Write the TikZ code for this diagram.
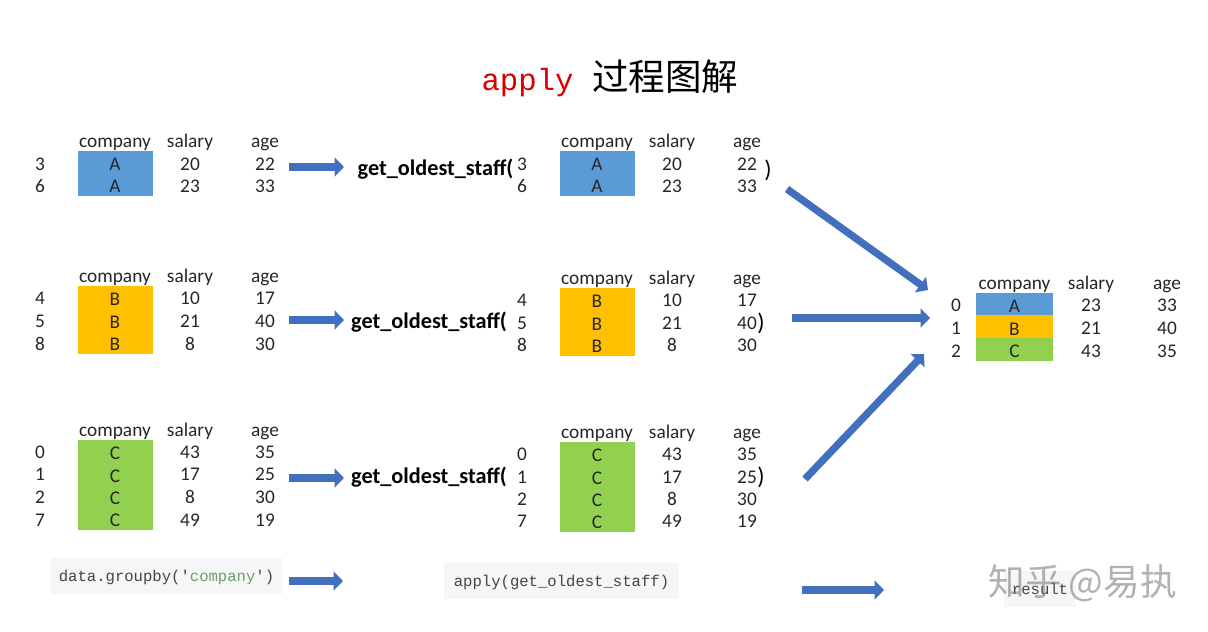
\documentclass[tikz,border=0pt]{standalone}
\usepackage{fontspec}
\setmainfont{Carlito}
\setmonofont{Liberation Mono}
\newfontfamily\cjk{Noto Sans CJK SC}
\usetikzlibrary{arrows.meta}
\definecolor{cella}{HTML}{5B9BD5}
\definecolor{cellb}{HTML}{FFC000}
\definecolor{cellc}{HTML}{92D050}
\definecolor{arrowblue}{HTML}{4270BE}
\definecolor{codebg}{HTML}{F6F6F6}
\definecolor{codeink}{HTML}{444444}
\definecolor{codegreen}{HTML}{6B9E6B}
\tikzset{
  every node/.style={inner sep=0pt,outer sep=0pt,text height=12.4pt,text depth=2pt,text=black!85,font=\fontsize{14.5}{16}\selectfont},
  cell/.style={fill=#1,minimum width=56.25pt,minimum height=17.3pt,text height=14.4pt,text depth=2pt},
  blockarrow/.style={arrowblue,line width=5.5pt,-{Triangle[length=7pt,width=14pt]}},
  funcname/.style={text height=13.5pt,text depth=2pt,font=\fontsize{16.7}{18}\selectfont\bfseries,text=black},
  closeparen/.style={text height=15pt,text depth=2pt,font=\fontsize{18}{20}\selectfont,text=black},
  codebox/.style={fill=codebg,minimum height=27pt,text height=10.5pt,text depth=2pt,font=\fontsize{11.7}{14}\ttfamily,text=codeink}
}

\begin{document}
\begin{tikzpicture}[x=0.75pt,y=-0.75pt]
  \useasboundingbox (0,0) rectangle (1208,632);
  % title
  \node[text height=26pt,text depth=6pt] (title) at (610,77) {\fontsize{23}{26}\ttfamily\textcolor{red!85!black}{apply}\hspace{14pt}\fontsize{27.4}{30}\cjk\textcolor{black}{过程图解}};

  % groups after groupby
  \begin{scope}[shift={(40,0)}]
   \node (ha1) at (75,141) {company}; \node (ha2) at (150,141) {salary}; \node (ha3) at (225,141) {age};
   \node[cell=cella] (a3c) at (75,162.5) {A}; \node (a3i) at (0,164) {3}; \node (a3s) at (150,164) {20}; \node (a3a) at (225,164) {22};
   \node[cell=cella] (a6c) at (75,184.5) {A}; \node (a6i) at (0,186) {6}; \node (a6s) at (150,186) {23}; \node (a6a) at (225,186) {33};

   \node (hb1) at (75,276) {company}; \node (hb2) at (150,276) {salary}; \node (hb3) at (225,276) {age};
   \node[cell=cellb] (b4c) at (75,297.5) {B}; \node (b4i) at (0,298) {4}; \node (b4s) at (150,298) {10}; \node (b4a) at (225,298) {17};
   \node[cell=cellb] (b5c) at (75,320) {B}; \node (b5i) at (0,321) {5}; \node (b5s) at (150,321) {21}; \node (b5a) at (225,321) {40};
   \node[cell=cellb] (b8c) at (75,342.5) {B}; \node (b8i) at (0,344) {8}; \node (b8s) at (150,344) {8}; \node (b8a) at (225,344) {30};

   \node (hc1) at (75,430) {company}; \node (hc2) at (150,430) {salary}; \node (hc3) at (225,430) {age};
   \node[cell=cellc] (c0c) at (75,451.5) {C}; \node (c0i) at (0,452) {0}; \node (c0s) at (150,452) {43}; \node (c0a) at (225,452) {35};
   \node[cell=cellc] (c1c) at (75,474) {C}; \node (c1i) at (0,474) {1}; \node (c1s) at (150,474) {17}; \node (c1a) at (225,474) {25};
   \node[cell=cellc] (c2c) at (75,496.5) {C}; \node (c2i) at (0,497) {2}; \node (c2s) at (150,497) {8}; \node (c2a) at (225,497) {30};
   \node[cell=cellc] (c7c) at (75,518.5) {C}; \node (c7i) at (0,520) {7}; \node (c7s) at (150,520) {49}; \node (c7a) at (225,520) {19};
  \end{scope}

  % function calls
  \node[funcname] (fa) at (435.5,168) {get\_oldest\_staff(};
  \node[funcname] (fb) at (429,321) {get\_oldest\_staff(};
  \node[funcname] (fc) at (429,476) {get\_oldest\_staff(};
  \node[closeparen] (pa) at (768,169) {)};
  \node[closeparen] (pb) at (761,322) {)};
  \node[closeparen] (pc) at (761,476) {)};

  \begin{scope}[shift={(522,0)}]
   \node (ja1) at (75,141) {company}; \node (ja2) at (150,141) {salary}; \node (ja3) at (225,141) {age};
   \node[cell=cella] (d3c) at (75,162.5) {A}; \node (d3i) at (0,164) {3}; \node (d3s) at (150,164) {20}; \node (d3a) at (225,164) {22};
   \node[cell=cella] (d6c) at (75,184.5) {A}; \node (d6i) at (0,186) {6}; \node (d6s) at (150,186) {23}; \node (d6a) at (225,186) {33};

   \node (jb1) at (75,278) {company}; \node (jb2) at (150,278) {salary}; \node (jb3) at (225,278) {age};
   \node[cell=cellb] (e4c) at (75,299.5) {B}; \node (e4i) at (0,300) {4}; \node (e4s) at (150,300) {10}; \node (e4a) at (225,300) {17};
   \node[cell=cellb] (e5c) at (75,322) {B}; \node (e5i) at (0,323) {5}; \node (e5s) at (150,323) {21}; \node (e5a) at (225,323) {40};
   \node[cell=cellb] (e8c) at (75,344.5) {B}; \node (e8i) at (0,345) {8}; \node (e8s) at (150,345) {8}; \node (e8a) at (225,345) {30};

   \node (jc1) at (75,432) {company}; \node (jc2) at (150,432) {salary}; \node (jc3) at (225,432) {age};
   \node[cell=cellc] (g0c) at (75,453.5) {C}; \node (g0i) at (0,454) {0}; \node (g0s) at (150,454) {43}; \node (g0a) at (225,454) {35};
   \node[cell=cellc] (g1c) at (75,476) {C}; \node (g1i) at (0,477) {1}; \node (g1s) at (150,477) {17}; \node (g1a) at (225,477) {25};
   \node[cell=cellc] (g2c) at (75,498.5) {C}; \node (g2i) at (0,499) {2}; \node (g2s) at (150,499) {8}; \node (g2a) at (225,499) {30};
   \node[cell=cellc] (g7c) at (75,520.5) {C}; \node (g7i) at (0,521) {7}; \node (g7s) at (150,521) {49}; \node (g7a) at (225,521) {19};
  \end{scope}

  % combined result
  \node (ra1) at (1014.5,283) {company}; \node (ra2) at (1091,283) {salary}; \node (ra3) at (1167,283) {age};
  \node[cell=cella,minimum width=57.75pt] (r0c) at (1014.5,304.5) {A}; \node (r0i) at (956,305) {0}; \node (r0s) at (1091,305) {23}; \node (r0a) at (1167,305) {33};
  \node[cell=cellb,minimum width=57.75pt] (r1c) at (1014.5,327) {B}; \node (r1i) at (956,328) {1}; \node (r1s) at (1091,328) {21}; \node (r1a) at (1167,328) {40};
  \node[cell=cellc,minimum width=57.75pt] (r2c) at (1014.5,349.5) {C}; \node (r2i) at (956,351) {2}; \node (r2s) at (1091,351) {43}; \node (r2a) at (1167,351) {35};

  % code line
  \node[codebox,minimum width=173pt] (groupby) at (166.5,576) {data.groupby('\textcolor{codegreen}{company}')};
  \node[codebox,minimum width=176pt] (applycode) at (561.5,580.5) {apply(get\_oldest\_staff)};
  \node[codebox,minimum width=54pt] (resultcode) at (1040,588.5) {result};

  % arrows
  \coordinate (a1s) at (289,167); \coordinate (a1e) at (344,167);
  \coordinate (a2s) at (289,320); \coordinate (a2e) at (344,320);
  \coordinate (a3s) at (289,478); \coordinate (a3e) at (344,478);
  \coordinate (a4s) at (289,581); \coordinate (a4e) at (343,581);
  \coordinate (a5s) at (802,590); \coordinate (a5e) at (884,590);
  \coordinate (m1s) at (787,189); \coordinate (m1e) at (928,290);
  \coordinate (m2s) at (792,318); \coordinate (m2e) at (930,318);
  \coordinate (m3s) at (805,479); \coordinate (m3e) at (924,354);
  \draw[blockarrow] (a1s) -- (a1e);
  \draw[blockarrow] (a2s) -- (a2e);
  \draw[blockarrow] (a3s) -- (a3e);
  \draw[blockarrow] (a4s) -- (a4e);
  \draw[blockarrow] (a5s) -- (a5e);
  \draw[blockarrow] (m1s) -- (m1e);
  \draw[blockarrow] (m2s) -- (m2e);
  \draw[blockarrow] (m3s) -- (m3e);

  % watermark
  \node[opacity=0.55,text=black!55,text height=28pt,text depth=6pt,font=\fontsize{27.5}{30}\cjk] (mark) at (1083,581) {知乎\hspace{5pt}@易执};
\end{tikzpicture}
\end{document}
